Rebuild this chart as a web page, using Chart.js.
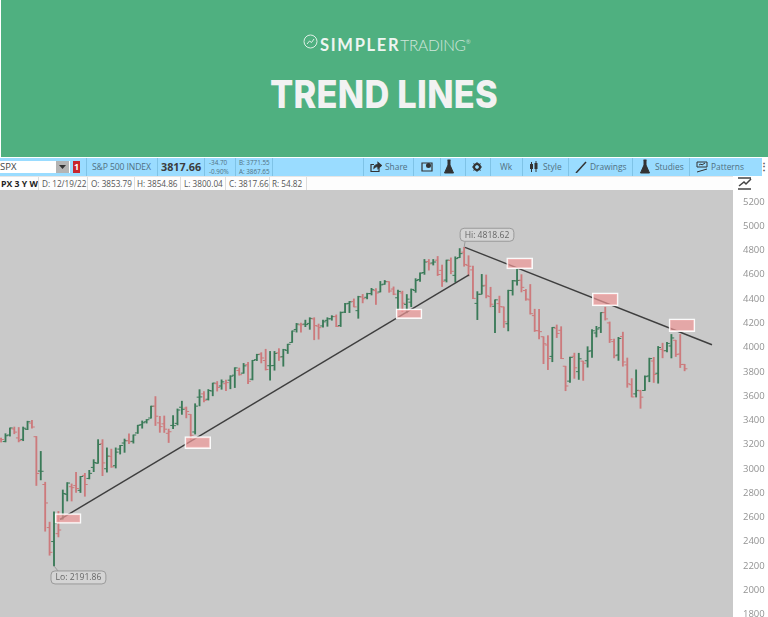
<!DOCTYPE html>
<html><head><meta charset="utf-8">
<script src="https://cdn.jsdelivr.net/npm/chart.js@4/dist/chart.umd.min.js"></script>
<style>
html,body{margin:0;padding:0;background:#fff}
#page{position:relative;width:768px;height:617px;overflow:hidden;background:#fff;font-family:"Open Sans",sans-serif;filter:blur(.35px)}
#banner{position:absolute;left:1px;top:0;width:767px;height:157px;background:#4fb080;color:#f3f3f3}
#title{position:absolute;left:0;width:768px;top:69px;text-align:center;font:800 38px/50px Inter,sans-serif;letter-spacing:.3px;color:#f2f2f2;transform:scaleX(.905)}
#logo{position:absolute;left:320px;top:33px;font:16.5px/18px Lato,sans-serif;color:#eef5f1;white-space:nowrap}
#logo b{font-weight:700;letter-spacing:1.7px}#logo span{font-weight:300;opacity:.8;font-size:15.5px;letter-spacing:-.3px}
#bar{position:absolute;left:0;top:158px;width:762px;height:18px;background:#9adcff}
#info{position:absolute;left:0;top:176px;width:733px;height:14px;background:#fdfdfd;border-top:1px solid #e6e6e6;box-sizing:border-box}
.t{position:absolute;white-space:nowrap;color:#50707f;font-size:9px;line-height:12px;transform-origin:0 50%}
.s{position:absolute;width:1px;background:#7fc3e6}
.c{position:absolute;white-space:nowrap;color:#555;font-size:8.2px;line-height:14px;top:0}
.d{position:absolute;top:0;width:1px;height:13px;background:#ddd}
svg{position:absolute}
canvas{position:absolute;left:0;top:190px}
</style></head><body>
<div id="page">
<div id="banner"></div>
<svg style="left:303px;top:34px" width="15" height="15" viewBox="0 0 15 15" fill="none" stroke="#dff0e7" stroke-width="1"><circle cx="7.5" cy="7.5" r="6.5"/><path d="M4 10l2.5-3 2 1.5L11 5"/></svg>
<div id="logo"><b>SIMPLER</b><span>TRADING</span><sup style="font-size:6px;opacity:.7">®</sup></div>
<div id="title">TREND LINES</div>
<div id="bar">
<div style="position:absolute;left:0;top:3px;width:70px;height:12px;background:#fff"></div>
<div class="t" style="left:0;top:3px;font-size:9.5px;color:#444">SPX</div>
<div style="position:absolute;left:56px;top:3px;width:13px;height:12px;background:#b4b4b4"></div>
<svg style="left:59px;top:7px" width="7" height="4"><path d="M0 0h7L3.5 4z" fill="#333"/></svg>
<div style="position:absolute;left:73px;top:3px;width:7px;height:12px;background:#c8252c;color:#fff;font:700 9px/12px 'Open Sans';text-align:center">1</div>
<div class="s" style="left:86px;top:0;height:18px"></div>
<div class="t" style="left:92px;top:3px;font-size:8.6px;letter-spacing:-.1px">S&amp;P 500 INDEX</div>
<div class="s" style="left:157px;top:0;height:18px"></div>
<div class="t" style="left:161px;top:3px;font-size:10.8px;font-weight:700;color:#3c3c3c">3817.66</div>
<div class="s" style="left:204px;top:0;height:18px"></div>
<div class="t" style="left:209px;top:0;font-size:6.3px;line-height:9px">-34.70<br>-0.90%</div>
<div class="s" style="left:235px;top:0;height:18px"></div>
<div class="t" style="left:239px;top:0;font-size:6.3px;line-height:9px">B: 3771.55<br>A: 3867.65</div>
<div class="s" style="left:272px;top:0;height:18px"></div>
<div class="s" style="left:363px;top:0;height:18px"></div>
<svg style="left:370px;top:3px" width="12" height="12" viewBox="0 0 12 12" fill="none" stroke="#333" stroke-width="1.2"><path d="M9 7v3.5H1v-7h3"/><path d="M4 7c0-2 2-3.500 4-3.500V1.500l3.500 3-3.500 3V5.500C6 5.500 5 6 4 7z" fill="#333"/></svg>
<div class="t" style="left:385px;top:3px;font-size:8.4px">Share</div>
<div class="s" style="left:413px;top:0;height:18px"></div>
<svg style="left:421px;top:3px" width="12" height="12" viewBox="0 0 12 12" fill="none" stroke="#333" stroke-width="1.2"><path d="M1 2h10v8H1z"/><circle cx="7.5" cy="4.5" r="2.500" fill="#333" stroke="none"/></svg>
<div class="s" style="left:440px;top:0;height:18px"></div>
<svg style="left:444px;top:1px" width="10" height="15" viewBox="0 0 10 15"><path d="M3.500 1h3M4 1v5L0.500 14h9L6 6V1" fill="#333" stroke="#333"/></svg>
<div class="s" style="left:465px;top:0;height:18px"></div>
<svg style="left:472px;top:4px" width="10" height="10" viewBox="0 0 10 10"><circle cx="5" cy="5" r="3" fill="none" stroke="#333" stroke-width="2"/><path d="M5 0v10M0 5h10M1.500 1.500l7 7M8.500 1.500l-7 7" stroke="#333"/><circle cx="5" cy="5" r="1.800" fill="#9adcff"/></svg>
<div class="s" style="left:490px;top:0;height:18px"></div>
<div class="t" style="left:500px;top:3px;font-size:8.4px">Wk</div>
<div class="s" style="left:522px;top:0;height:18px"></div>
<svg style="left:529px;top:3px" width="10" height="12" viewBox="0 0 10 12"><path d="M2.500 1v10M7 0v11" stroke="#333"/><rect x="1" y="3" width="3" height="5" fill="#333"/><rect x="5.500" y="2" width="3" height="6" fill="#333"/></svg>
<div class="t" style="left:543px;top:3px;font-size:8.4px">Style</div>
<div class="s" style="left:568px;top:0;height:18px"></div>
<svg style="left:575px;top:3px" width="12" height="12"><path d="M1 12L11 1" stroke="#333" stroke-width="1.500"/></svg>
<div class="t" style="left:590px;top:3px;font-size:8.4px">Drawings</div>
<div class="s" style="left:632px;top:0;height:18px"></div>
<svg style="left:640px;top:1px" width="10" height="15" viewBox="0 0 10 15"><path d="M3.500 1h3M4 1v5L0.500 14h9L6 6V1" fill="#333" stroke="#333"/></svg>
<div class="t" style="left:655px;top:3px;font-size:8.4px">Studies</div>
<div class="s" style="left:689px;top:0;height:18px"></div>
<svg style="left:696px;top:3px" width="12" height="12" viewBox="0 0 12 12" fill="none" stroke="#333"><path d="M1 1h10v5H1zM3 4l2-1 1 1 3-2M1 11l10-3"/></svg>
<div class="t" style="left:711px;top:3px;font-size:8.4px">Patterns</div>
<div class="t" style="left:759px;top:2px;font-size:10px;font-weight:700;color:#555">⋮</div>
</div>
<div id="info">
<div class="c" style="left:1px;font-weight:700;color:#222;font-size:8.7px">PX 3 Y W</div><div class="d" style="left:38px"></div>
<div class="c" style="left:42px">D: 12/19/22</div><div class="d" style="left:87px"></div>
<div class="c" style="left:91px">O: 3853.79</div><div class="d" style="left:134px"></div>
<div class="c" style="left:137px">H: 3854.86</div><div class="d" style="left:180px"></div>
<div class="c" style="left:184px">L: 3800.04</div><div class="d" style="left:225px"></div>
<div class="c" style="left:229px">C: 3817.66</div><div class="d" style="left:269px"></div>
<div class="c" style="left:272px">R: 54.82</div><div class="d" style="left:306px"></div>
</div>
<svg style="left:737px;top:177px" width="15" height="13" viewBox="0 0 15 13" fill="none" stroke="#444" stroke-width="1.500"><path d="M1 1h13M1 12h13M2 9l5-4 2 2 5-5"/></svg>
<canvas id="c" width="768" height="427"></canvas>
</div>
<script>
const weeks=["2019-12-30","2020-01-06","2020-01-13","2020-01-21","2020-01-27","2020-02-03","2020-02-10","2020-02-18","2020-02-24","2020-03-02","2020-03-09","2020-03-16","2020-03-23","2020-03-30","2020-04-06","2020-04-13","2020-04-20","2020-04-27","2020-05-04","2020-05-11","2020-05-18","2020-05-26","2020-06-01","2020-06-08","2020-06-15","2020-06-22","2020-06-29","2020-07-06","2020-07-13","2020-07-20","2020-07-27","2020-08-03","2020-08-10","2020-08-17","2020-08-24","2020-08-31","2020-09-08","2020-09-14","2020-09-21","2020-09-28","2020-10-05","2020-10-12","2020-10-19","2020-10-26","2020-11-02","2020-11-09","2020-11-16","2020-11-23","2020-11-30","2020-12-07","2020-12-14","2020-12-21","2020-12-28","2021-01-04","2021-01-11","2021-01-19","2021-01-25","2021-02-01","2021-02-08","2021-02-16","2021-02-22","2021-03-01","2021-03-08","2021-03-15","2021-03-22","2021-03-29","2021-04-05","2021-04-12","2021-04-19","2021-04-26","2021-05-03","2021-05-10","2021-05-17","2021-05-24","2021-06-01","2021-06-07","2021-06-14","2021-06-21","2021-06-28","2021-07-06","2021-07-12","2021-07-19","2021-07-26","2021-08-02","2021-08-09","2021-08-16","2021-08-23","2021-08-30","2021-09-07","2021-09-13","2021-09-20","2021-09-27","2021-10-04","2021-10-11","2021-10-18","2021-10-25","2021-11-01","2021-11-08","2021-11-15","2021-11-22","2021-11-29","2021-12-06","2021-12-13","2021-12-20","2021-12-27","2022-01-03","2022-01-10","2022-01-18","2022-01-24","2022-01-31","2022-02-07","2022-02-14","2022-02-22","2022-02-28","2022-03-07","2022-03-14","2022-03-21","2022-03-28","2022-04-04","2022-04-11","2022-04-18","2022-04-25","2022-05-02","2022-05-09","2022-05-16","2022-05-23","2022-05-31","2022-06-06","2022-06-13","2022-06-21","2022-06-27","2022-07-05","2022-07-11","2022-07-18","2022-07-25","2022-08-01","2022-08-08","2022-08-15","2022-08-22","2022-08-29","2022-09-06","2022-09-12","2022-09-19","2022-09-26","2022-10-03","2022-10-10","2022-10-17","2022-10-24","2022-10-31","2022-11-07","2022-11-14","2022-11-21","2022-11-28","2022-12-05","2022-12-12","2022-12-19"];
const opens=[3240,3217,3271,3321,3247,3235,3318,3369,3257,2974,2863,2508,2393,2458,2578,2782,2845,2854,2815,2938,2913,3004,3038,3199,2993,3094,3018,3155,3205,3224,3219,3288,3356,3380,3411,3509,3371,3363,3285,3350,3367,3500,3493,3441,3296,3583,3610,3566,3634,3694,3675,3694,3723,3764,3803,3781,3851,3731,3892,3939,3885,3842,3844,3949,3916,3969,4034,4141,4179,4185,4191,4228,4169,4170,4216,4229,4248,4173,4284,4356,4372,4296,4409,4406,4437,4461,4450,4514,4535,4474,4402,4442,4348,4366,4463,4553,4610,4701,4689,4712,4628,4548,4710,4587,4733,4778,4670,4632,4356,4431,4505,4412,4332,4354,4327,4188,4462,4541,4547,4462,4385,4255,4130,4081,4013,3919,4151,4134,3838,3715,3920,3793,3880,3883,3965,4112,4155,4281,4195,4041,3930,4083,3849,3686,3610,3636,3638,3758,3881,3780,3977,3966,4005,4052,3939,3853];
const highs=[3246,3282,3329,3337,3333,3337,3385,3393,3259,3136,2882,2553,2637,2641,2818,2879,2868,2964,2930,2955,2980,3068,3233,3233,3165,3155,3165,3186,3238,3280,3272,3352,3387,3399,3509,3588,3425,3428,3320,3432,3486,3550,3502,3441,3529,3645,3628,3646,3699,3712,3726,3724,3760,3826,3823,3861,3870,3887,3937,3950,3978,3960,3960,3983,3978,4020,4129,4191,4194,4218,4238,4238,4186,4219,4238,4255,4261,4286,4356,4372,4393,4415,4430,4440,4480,4478,4537,4545,4535,4492,4465,4457,4429,4475,4560,4608,4718,4718,4718,4743,4672,4713,4731,4740,4808,4818,4749,4664,4453,4595,4590,4489,4385,4416,4327,4465,4546,4637,4593,4471,4512,4308,4307,4081,4090,4158,4178,4164,3838,3913,3946,3945,3880,3999,4140,4167,4280,4325,4203,4062,4076,4119,3906,3736,3808,3640,3759,3905,3911,4001,4028,4034,4100,4052,4100,3854];
const lows=[3213,3214,3262,3281,3214,3224,3315,3328,2855,2901,2478,2280,2191,2431,2578,2727,2727,2797,2797,2766,2909,2969,3038,2936,2965,3004,2999,3114,3128,3200,3204,3284,3327,3369,3410,3349,3293,3292,3209,3323,3354,3441,3412,3233,3279,3511,3543,3559,3594,3633,3648,3636,3652,3662,3764,3780,3694,3725,3884,3865,3806,3723,3805,3885,3838,3943,4034,4119,4118,4164,4142,4056,4061,4159,4167,4217,4164,4165,4279,4280,4327,4233,4360,4393,4425,4347,4450,4513,4447,4427,4305,4288,4278,4329,4447,4537,4595,4630,4672,4585,4495,4532,4600,4531,4733,4662,4582,4395,4222,4433,4401,4327,4114,4279,4157,4129,4424,4506,4450,4381,4267,4124,4063,3859,3810,3875,4074,3900,3636,3705,3738,3729,3721,3830,3910,4079,4115,4218,4033,3906,3886,3838,3664,3585,3584,3491,3639,3710,3704,3698,3907,3955,3906,3918,3827,3800];
const closes=[3234,3265,3329,3295,3225,3327,3380,3337,2954,2972,2711,2304,2541,2488,2789,2875,2837,2830,2929,2863,2955,3044,3193,3041,3097,3009,3130,3185,3224,3215,3271,3351,3372,3397,3508,3426,3340,3319,3298,3348,3477,3483,3465,3269,3509,3585,3557,3638,3699,3663,3709,3703,3756,3824,3768,3841,3714,3886,3934,3906,3811,3842,3943,3913,3974,4019,4128,4185,4180,4181,4232,4173,4156,4204,4229,4247,4166,4280,4352,4369,4327,4411,4395,4436,4468,4441,4509,4535,4458,4432,4455,4357,4391,4471,4544,4605,4697,4682,4697,4594,4538,4712,4620,4725,4766,4677,4662,4397,4431,4500,4418,4349,4385,4329,4204,4463,4543,4545,4488,4392,4271,4132,4123,4023,3901,4158,4108,3901,3675,3911,3825,3899,3863,3961,4130,4145,4280,4228,4057,3924,4067,3873,3693,3585,3639,3583,3752,3901,3770,3992,3965,4026,4071,3934,3852,3817];
const yTicks=[5200,5000,4800,4600,4400,4200,4000,3800,3600,3400,3200,3000,2800,2600,2400,2200,2000,1800];
// trend lines: [week index, price]
const supportLine=[[13.37,2575],[106.1,4591]];
const resistanceLine=[[105.2,4818],[161.2,4015]];
// highlight boxes: week centre, low price, high price
const boxX=[15.2,44.6,92.5,117.6,137,154.4];
const boxLo=[2542,3159,4229,4640,4336,4122];
const boxHi=[2624,3258,4311,4731,4443,4229];
const extremes=[{k:105,v:4818.62,t:"Hi: 4818.62",dy:-19},{k:12,v:2191.86,t:"Lo: 2191.86",dy:5}];

const GREEN="#3a7a58",RED="#cc7a7c";
const col=closes.map((c,i)=>i===0||c>=closes[i-1]?(i===0?RED:GREEN):RED);
const wick=weeks.map((_,i)=>({x:i,y:[lows[i],highs[i]]}));
const openT=weeks.map((_,i)=>({x:i-.32,y:opens[i]}));
const closeT=weeks.map((_,i)=>({x:i+.32,y:closes[i]}));
const pts=a=>a.map(p=>({x:p[0],y:p[1]}));
const chromePlugin={id:"chrome",
 beforeDraw(ch){const a=ch.chartArea,c=ch.ctx;c.save();c.fillStyle="#c9c9c9";c.fillRect(a.left,a.top,a.right-a.left,a.bottom-a.top);c.restore();},
 afterDraw(ch){const c=ch.ctx,X=ch.scales.x,Y=ch.scales.y;
  extremes.forEach(e=>{const px=X.getPixelForValue(e.k),py=Y.getPixelForValue(e.v);
   c.save();c.font="8.6px 'Open Sans',sans-serif";const w=c.measureText(e.t).width+9,h=13;
   let left,top;
   if(e.dy<0){left=px-4;top=py+e.dy;}else{left=px-3;top=py+e.dy;}
   c.strokeStyle="#9a9a9a";c.lineWidth=1;c.beginPath();c.moveTo(px,py);c.lineTo(px+(e.dy<0?1:4),e.dy<0?top+h:top);c.stroke();
   c.fillStyle="#d4d4d4";c.beginPath();c.roundRect(left,top,w,h,4);c.fill();c.stroke();
   c.fillStyle="#666";c.textAlign="left";c.textBaseline="middle";c.fillText(e.t,left+4.5,top+h/2+.5);c.restore();});
 }};
new Chart(document.getElementById("c"),{type:"bar",plugins:[chromePlugin],
 data:{datasets:[
  {type:"bar",order:1,data:boxX.map((x,i)=>({x,y:[boxLo[i],boxHi[i]]})),barThickness:26,grouped:false,backgroundColor:"rgba(240,150,150,.68)",borderColor:"rgba(255,255,255,.9)",borderWidth:1.5,borderSkipped:false},
  {type:"scatter",order:2,data:pts(supportLine),showLine:true,borderColor:"#3e3e3e",borderWidth:1.4,pointRadius:0},
  {type:"scatter",order:2,data:pts(resistanceLine),showLine:true,borderColor:"#3e3e3e",borderWidth:1.4,pointRadius:0},
  {type:"bar",order:3,data:wick,barThickness:1.2,grouped:false,backgroundColor:col},
  {type:"scatter",order:3,data:openT,showLine:false,pointStyle:"line",pointRadius:1.4,pointBorderWidth:1,pointBorderColor:col},
  {type:"scatter",order:3,data:closeT,showLine:false,pointStyle:"line",pointRadius:1.4,pointBorderWidth:1,pointBorderColor:col}
 ]},
 options:{responsive:false,animation:false,devicePixelRatio:1,events:[],
  layout:{padding:0,autoPadding:false},
  plugins:{legend:{display:false},tooltip:{enabled:false}},
  scales:{
   x:{type:"linear",offset:false,display:false,min:-0.245,max:165.97},
   y:{position:"right",min:1771,max:5290.5,grid:{display:false},border:{display:false},
    afterBuildTicks(s){s.ticks=yTicks.map(v=>({value:v}));},
    afterFit(s){s.width=35;s.paddingTop=0;s.paddingBottom=0;},
    ticks:{color:"#939393",font:{size:9.5,family:"'Open Sans',sans-serif"},padding:2,labelOffset:1,autoSkip:false,maxRotation:0,callback:v=>String(v)}}
  }}
});
</script>
</body></html>
